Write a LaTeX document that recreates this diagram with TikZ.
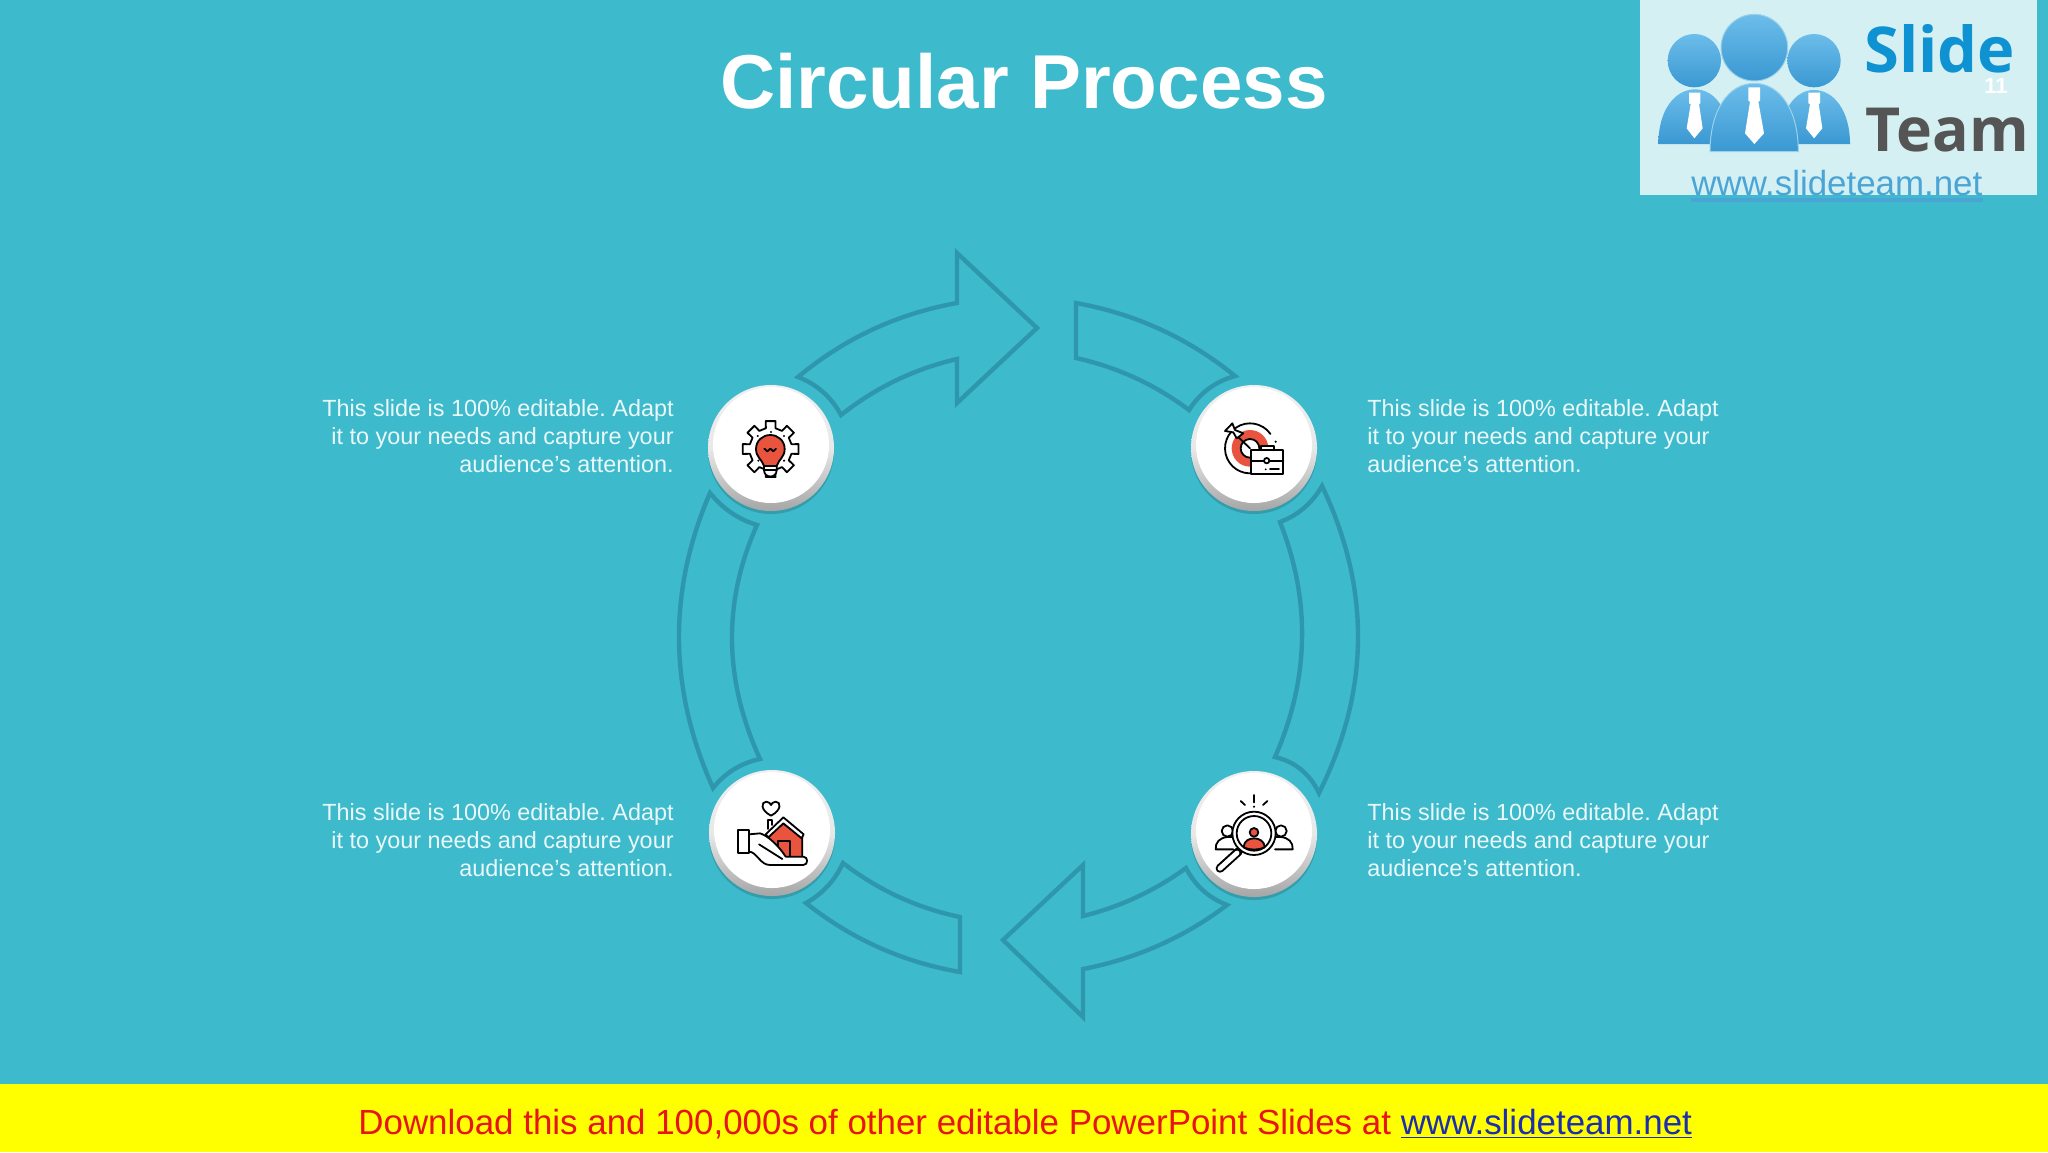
\documentclass[tikz,border=0pt]{standalone}
\usepackage{fontspec}
\setmainfont{Liberation Sans}
\newfontfamily\logofont{Open Sans}
\usetikzlibrary{calc}
\frenchspacing
\definecolor{bgc}{HTML}{3DBACB}
\definecolor{edgec}{HTML}{2F97AD}
\definecolor{redc}{HTML}{E9543F}
\definecolor{logobg}{HTML}{D5F0F3}
\definecolor{peop}{HTML}{45A5DC}
\definecolor{peoptop}{HTML}{6CBDEA}
\definecolor{peopbot}{HTML}{3A98D2}
\definecolor{slidec}{HTML}{0E92D2}
\definecolor{teamc}{HTML}{555555}
\definecolor{wwwc}{HTML}{4AA5D6}
\definecolor{barc}{HTML}{FFFF00}
\definecolor{barred}{HTML}{E8141C}
\definecolor{barblue}{HTML}{1C2DB0}
\definecolor{txtc}{HTML}{EAF8FA}
\definecolor{F0}{HTML}{F0F0F0}
\definecolor{G9}{HTML}{A6A6A6}
\definecolor{E6}{HTML}{E8E8E8}
\tikzset{
  qc/.style={to path={.. controls ($(\tikztostart)!2/3!(#1)$) and ($(\tikztotarget)!2/3!(#1)$) .. (\tikztotarget)}},
  flow/.style={draw=edgec,line width=2.2pt,line join=miter,miter limit=6},
  disc/.style={circle,minimum size=63pt,inner sep=0pt,top color=F0,bottom color=G9,middle color=E6},
  topdisc/.style={circle,minimum size=58pt,inner sep=0pt,fill=white},
  body/.style={font=\fontsize{11.7}{14}\selectfont,text=txtc,inner sep=0pt},
  ic/.style={draw=black,line width=.9pt,line join=round,line cap=round},
  logoperson/.style={top color=peoptop,bottom color=peopbot},
  zoomA/.style={shift={(690,370)},scale=1/3},
  zoomB/.style={shift={(1175,370)},scale=1/3},
  zoomC/.style={shift={(695,755)},scale=1/3},
  zoomD/.style={shift={(1175,755)},scale=1/3},
  zoomL/.style={shift={(1620,0)},scale=1/3},
}
\begin{document}
\begin{tikzpicture}[x=0.5pt,y=-0.5pt]
\useasboundingbox (0,0) rectangle (2048,1152);
\fill[bgc] (0,0) rectangle (2048,1152);
% title
\node[font=\fontsize{38.2}{40}\selectfont\bfseries,text=white,inner sep=0pt] (title) at (1024,81) {Circular Process};
% flow shapes
\draw[flow] (798,377) to[qc={867.7,319}] (957,303) -- (957,253) -- (1037,328) -- (957,403) -- (957,359) to[qc={893,373.8}] (841,415) to[qc={826.5,388}] cycle;
\draw[flow] (1076,303) to[qc={1164.9,319.1}] (1235,376) to[qc={1205.4,384.2}] (1189,410) to[qc={1138.1,371.8}] (1076,358) -- cycle;
\draw[flow] (1322,486) to[qc={1395.5,640}] (1319,793) to[qc={1305,764}] (1275,757) to[qc={1326.5,640}] (1280,522) to[qc={1307.4,511.6}] cycle;
\draw[flow] (1227,905) to[qc={1162.8,953.6}] (1083,969) -- (1083,1017) -- (1003,940) -- (1083,865) -- (1083,916) to[qc={1139.3,902}] (1186,868) to[qc={1199.5,894.3}] cycle;
\draw[flow] (960,972) to[qc={874.2,957.1}] (806,903) to[qc={831,889}] (843,863) to[qc={895.3,903.4}] (960,917) -- cycle;
\draw[flow] (713,788) to[qc={646.5,640}] (710,493) to[qc={728.9,516.4}] (757,525) to[qc={705.5,640}] (760,759) to[qc={731.5,765}] cycle;
% discs
\foreach \n/\cx/\cy in {a/771/448,b/1254/448,c/772/833,d/1254/834}{
  \fill[black!60!bgc,opacity=.25] (\cx,\cy+3) circle[radius=63];
  \node[disc] (disc\n) at (\cx,\cy) {};
  \node[topdisc] (top\n) at (\cx,\cy-3) {};
}
% icon 1: gear and bulb
\begin{scope}[zoomA]
\draw[ic,fill=white,shift={(242,237)}] (-103:64) \foreach \a in {-90,-45,0,45,90,135,180,225}{ -- ({\a-13}:64) -- ({\a-10}:85) -- ({\a+10}:85) -- ({\a+13}:64)} -- cycle;
\foreach \p in {(243,186),(282,198),(205,272),(282,272),(203,198)}{\fill \p circle[radius=3.5];}
\draw[ic,fill=redc] (222,288) .. controls (216,268) and (198,262) .. (198,237) .. controls (198,212) and (218,195) .. (241,195) .. controls (264,195) and (284,212) .. (284,237) .. controls (284,262) and (266,268) .. (260,288) -- cycle;
\draw[ic,fill=white] (222,288) -- (260,288) -- (260,300) .. controls (260,326) and (222,326) .. (222,300) -- cycle;
\draw[ic] (222,299) -- (260,299);
\draw[ic] (223,236) -- (232,244) -- (241,236) -- (250,244) -- (258,236);
\end{scope}
% icon 2: target and briefcase
\begin{scope}[zoomB]
\draw[ic] (225,235) ++(-35:75) arc[start angle=-35,end angle=-300,radius=75];
\fill[black] (302,215) circle[radius=3.5];
\fill[redc] (225,235) circle[radius=55];
\draw[ic,fill=white] (225,235) circle[radius=28];
\draw[ic] (225,235) -- (175,187);
\draw[ic,fill=white] (175,187) -- (150,183) -- (172,160) -- (180,180) -- (205,190) -- (185,205) -- cycle;
\draw[ic,fill=white] (258,240) -- (258,228) -- (297,228) -- (297,240);
\draw[ic,fill=white] (228,240) rectangle (325,313);
\draw[ic] (228,272) -- (266,272) (284,272) -- (325,272);
\draw[ic,fill=white] (275,272) circle[radius=8];
\fill[black] (272,298) circle[radius=3];
\draw[ic] (285,298) -- (312,298);
\end{scope}
% icon 3: hand and house
\begin{scope}[zoomC]
\draw[ic,fill=white] (228,182) .. controls (195,165) and (198,140) .. (214,140) .. controls (222,140) and (226,146) .. (228,150) .. controls (230,146) and (234,140) .. (242,140) .. controls (258,140) and (261,165) .. (228,182) -- cycle;
\draw[ic,fill=white] (218,222) -- (218,195) -- (232,195) -- (232,210);
\draw[ic,fill=redc] (222,240) -- (265,205) -- (322,245) -- (322,312) -- (222,312) -- cycle;
\draw[ic,fill=white] (212,238) -- (265,187) -- (326,238) -- (320,250) -- (265,205) -- (220,247) -- cycle;
\draw[ic,fill=redc] (250,258) -- (285,258) -- (285,305) -- (250,305) -- cycle;
\draw[ic,fill=white] (162,238) -- (195,235) .. controls (215,240) and (250,270) .. (272,305) -- (325,305) .. controls (340,305) and (340,330) .. (325,330) -- (225,330) .. controls (195,330) and (185,290) .. (162,290) -- cycle;
\draw[ic] (192,268) -- (262,312);
\draw[ic,fill=white] (130,225) rectangle (162,295);
\end{scope}
% icon 4: magnifier and people
\begin{scope}[zoomD]
\draw[ic] (237,120) -- (237,142);
\fill[black] (237,155) circle[radius=3.5];
\draw[ic] (197,138) -- (210,150) (277,138) -- (264,150);
\draw[ic,fill=white] (157,228) circle[radius=17];
\draw[ic,fill=white] (318,228) circle[radius=17];
\draw[ic,fill=white] (175,283) -- (122,283) .. controls (120,262) and (135,248) .. (157,246) -- (175,246);
\draw[ic,fill=white] (300,283) -- (353,283) .. controls (355,262) and (340,248) .. (318,246) -- (300,246);
\draw[black,line width=4.4pt,line cap=round] (190,290) -- (135,340);
\draw[white,line width=2.4pt,line cap=round] (186,294) -- (135,340);
\draw[ic,fill=white] (237,235) circle[radius=65];
\draw[ic] (237,235) circle[radius=52];
\draw[ic,fill=redc] (237,232) circle[radius=13];
\draw[ic,fill=redc] (206,277) .. controls (206,258) and (222,250) .. (237,250) .. controls (252,250) and (269,258) .. (269,277) .. controls (250,286) and (225,286) .. (206,277) -- cycle;
\end{scope}
% body texts
\node[body,align=right,anchor=east] (t1) at (674,436) {This slide is 100\% editable. Adapt\\it to your needs and capture your\\audience’s attention.};
\node[body,align=left,anchor=west] (t2) at (1367,436) {This slide is 100\% editable. Adapt\\it to your needs and capture your\\audience’s attention.};
\node[body,align=right,anchor=east] (t3) at (674,840) {This slide is 100\% editable. Adapt\\it to your needs and capture your\\audience’s attention.};
\node[body,align=left,anchor=west] (t4) at (1367,840) {This slide is 100\% editable. Adapt\\it to your needs and capture your\\audience’s attention.};
% logo
\fill[logobg] (1640,0) rectangle (2037,195);
\begin{scope}[zoomL]
\shade[logoperson] (223,182) circle[radius=80];
\shade[logoperson] (582,182) circle[radius=80];
\shade[logoperson] (115,432) .. controls (115,330) and (165,268) .. (225,268) .. controls (285,268) and (330,330) .. (330,432) -- cycle;
\shade[logoperson] (690,432) .. controls (690,330) and (640,270) .. (582,270) .. controls (525,270) and (480,330) .. (480,432) -- cycle;
\draw[logobg!60!peop,line width=.5pt,top color=peoptop,bottom color=peopbot] (270,455) .. controls (270,330) and (325,250) .. (403,250) .. controls (480,250) and (535,330) .. (535,455) -- cycle;
\draw[logobg!60!peop,line width=.5pt,top color=peoptop,bottom color=peopbot] (403,143) circle[radius=100];
\fill[white] (385,262) -- (420,262) -- (420,302) -- (415,305) -- (432,400) -- (403,432) -- (375,400) -- (390,305) -- (385,302) -- cycle;
\fill[white] (207,278) -- (241,278) -- (241,310) -- (237,312) -- (248,385) -- (223,415) -- (200,385) -- (212,312) -- (207,310) -- cycle;
\fill[white] (565,278) -- (600,278) -- (600,310) -- (596,312) -- (607,385) -- (582,415) -- (558,385) -- (570,312) -- (565,310) -- cycle;
\end{scope}
\node[anchor=base west,inner sep=0pt,font=\logofont\bfseries\fontsize{31.6}{34}\selectfont,text=slidec] (slide) at (1864,72) {Slide};
\node[anchor=base west,inner sep=0pt,font=\logofont\bfseries\fontsize{30.4}{34}\selectfont,text=teamc] (team) at (1865,151) {Team};
\node[anchor=base west,inner sep=0pt,font=\fontsize{17.45}{19}\selectfont,text=wwwc] (www) at (1691,195) {www.slideteam.net};
\draw[wwwc,line width=.7pt] (1691,199) -- (1983,199) (1691,201) -- (1983,201);
\node[inner sep=0pt,font=\fontsize{11}{12}\selectfont\bfseries,text=white] (num) at (1996,86) {11};
% bottom bar
\fill[barc] (0,1084) rectangle (2048,1152);
\node[inner sep=0pt,anchor=west,font=\fontsize{17.46}{19}\selectfont,text=barred] (promo) at (358,1124) {Download this and 100,000s of other editable PowerPoint Slides at \textcolor{barblue}{\underline{www.slideteam.net}}};
\end{tikzpicture}
\end{document}
